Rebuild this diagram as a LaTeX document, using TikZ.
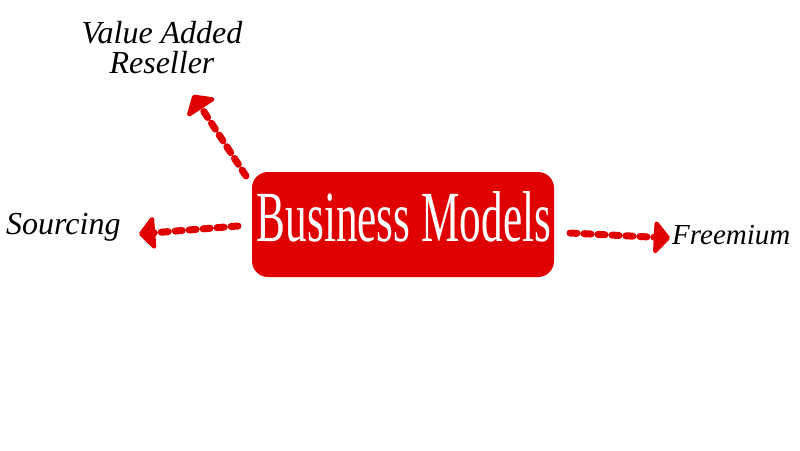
\documentclass[tikz,border=0pt]{standalone}
\usepackage{fontspec}
\setmainfont{Liberation Serif}
\usetikzlibrary{arrows.meta}
\definecolor{bmred}{HTML}{E10000}
\tikzset{
  bmbox/.style={fill=bmred, rounded corners=16pt, minimum width=302pt, minimum height=105pt, inner sep=0pt},
  hand/.style={font=\fontsize{32}{32}\selectfont\itshape, text=black, inner sep=0pt, align=center},
  redarrow/.style={draw=bmred, line width=7pt, line cap=round, dash pattern=on 7pt off 7pt,
     -{Triangle[width=38pt,length=17pt,round]}}
}
\begin{document}
\begin{tikzpicture}[x=1pt,y=-1pt]
\useasboundingbox (0,0) rectangle (800,450);
\node[bmbox] (bm) at (403,224.5) {};
\node[text=white, inner sep=0pt] (bmt) at (404,217) {\scalebox{0.6}[1]{\fontsize{72}{72}\selectfont Business Models}};
\node[hand] (var) at (162,48) {Value Added\\[-2pt]Reseller};
\node[hand, anchor=west] (src) at (6,227) {Sourcing};
\node[hand, anchor=west, font=\fontsize{29}{29}\selectfont\itshape] (frm) at (672,235) {Freemium};
\coordinate (a1s) at (246,176);
\coordinate (a1e) at (193,95);
\coordinate (a2s) at (238,226);
\coordinate (a2e) at (139,234);
\coordinate (a3s) at (570,233);
\coordinate (a3e) at (670,238);
\draw[redarrow] (a1s) -- (a1e);
\draw[redarrow] (a2s) -- (a2e);
\draw[redarrow] (a3s) -- (a3e);
\end{tikzpicture}
\end{document}
